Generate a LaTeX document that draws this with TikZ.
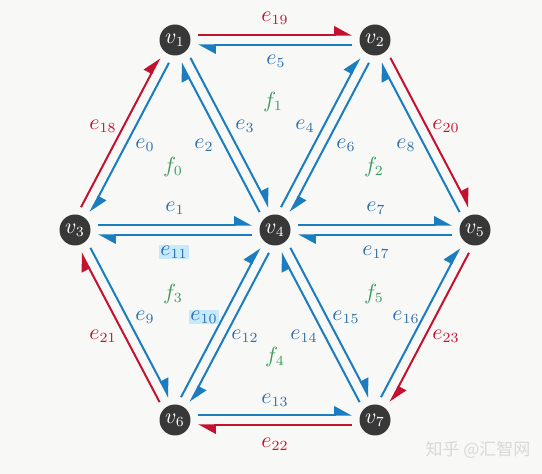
\documentclass[tikz,border=0pt]{standalone}
\usepackage{fontspec}
\newfontfamily\cjkfont{Noto Sans CJK SC}
\usetikzlibrary{arrows.meta,calc}
\definecolor{bgc}{HTML}{F8F8F6}
\definecolor{lblue}{HTML}{1A7DC0}
\definecolor{tblue}{HTML}{2C6EAC}
\definecolor{lred}{HTML}{C3122F}
\definecolor{lgreen}{HTML}{3C9B5C}
\definecolor{vgray}{HTML}{383838}
\definecolor{hilite}{HTML}{C6EAF9}
\tikzset{
  vtx/.style={circle, fill=vgray, text=white, minimum size=15.5pt, inner sep=0pt, font=\fontsize{10.5}{12}\selectfont},
  bedge/.style={draw=lblue, line width=1pt, -{Triangle[harpoon, length=8pt, width=8.5pt]}},
  redge/.style={draw=lred, line width=1pt, -{Triangle[harpoon, length=8pt, width=8.5pt]}},
  blab/.style={text=tblue, font=\fontsize{10.5}{12}\selectfont, inner sep=0.5pt},
  rlab/.style={text=lred, font=\fontsize{10.5}{12}\selectfont, inner sep=0.5pt},
  flab/.style={text=lgreen, font=\fontsize{10.5}{12}\selectfont, inner sep=0.5pt},
  hl/.style={fill=hilite}
}
\newcommand\dedge[3]{\draw[#1] ($(#2)!11.5pt!(#3)!2.65pt!90:(#3)$) -- ($(#3)!11.5pt!(#2)!2.65pt!-90:(#2)$);}
\begin{document}
\begin{tikzpicture}[x=0.5pt,y=-0.5pt]
\fill[bgc] (0,0) rectangle (542,474);
\useasboundingbox (0,0) rectangle (542,474);
% vertices
\node[vtx] (v1) at (175,40) {$v_1$};
\node[vtx] (v2) at (375,40) {$v_2$};
\node[vtx] (v3) at (75,230) {$v_3$};
\node[vtx] (v4) at (275,230) {$v_4$};
\node[vtx] (v5) at (475,230) {$v_5$};
\node[vtx] (v6) at (175,420) {$v_6$};
\node[vtx] (v7) at (375,420) {$v_7$};
% blue edges
\dedge{bedge}{v1}{v3}
\dedge{bedge}{v3}{v4}
\dedge{bedge}{v4}{v1}
\dedge{bedge}{v1}{v4}
\dedge{bedge}{v4}{v2}
\dedge{bedge}{v2}{v1}
\dedge{bedge}{v2}{v4}
\dedge{bedge}{v4}{v5}
\dedge{bedge}{v5}{v2}
\dedge{bedge}{v3}{v6}
\dedge{bedge}{v6}{v4}
\dedge{bedge}{v4}{v3}
\dedge{bedge}{v4}{v6}
\dedge{bedge}{v6}{v7}
\dedge{bedge}{v7}{v4}
\dedge{bedge}{v4}{v7}
\dedge{bedge}{v7}{v5}
\dedge{bedge}{v5}{v4}
% red edges
\dedge{redge}{v3}{v1}
\dedge{redge}{v1}{v2}
\dedge{redge}{v2}{v5}
\dedge{redge}{v6}{v3}
\dedge{redge}{v7}{v6}
\dedge{redge}{v5}{v7}
% edge labels
\node[blab] (l0) at (145,145) {$e_{0}$};
\node[blab] (l1) at (175,208) {$e_{1}$};
\node[blab] (l2) at (204,145) {$e_{2}$};
\node[blab] (l3) at (245,126) {$e_{3}$};
\node[blab] (l4) at (305,126) {$e_{4}$};
\node[blab] (l5) at (276,61) {$e_{5}$};
\node[blab] (l6) at (346,145) {$e_{6}$};
\node[blab] (l7) at (376,208) {$e_{7}$};
\node[blab] (l8) at (406,145) {$e_{8}$};
\node[blab] (l9) at (145,317) {$e_{9}$};
\node[blab,hl] (l10) at (204,317) {$e_{10}$};
\node[blab,hl] (l11) at (174,252) {$e_{11}$};
\node[blab] (l12) at (245,336) {$e_{12}$};
\node[blab] (l13) at (275,400) {$e_{13}$};
\node[blab] (l14) at (304,336) {$e_{14}$};
\node[blab] (l15) at (346,317) {$e_{15}$};
\node[blab] (l16) at (406,317) {$e_{16}$};
\node[blab] (l17) at (376,252) {$e_{17}$};
\node[rlab] (l18) at (103,126) {$e_{18}$};
\node[rlab] (l19) at (275,18) {$e_{19}$};
\node[rlab] (l20) at (446,126) {$e_{20}$};
\node[rlab] (l21) at (103,336) {$e_{21}$};
\node[rlab] (l22) at (275,444) {$e_{22}$};
\node[rlab] (l23) at (446,336) {$e_{23}$};
% face labels
\node[flab] (f0) at (173,167) {$f_{0}$};
\node[flab] (f1) at (273,102) {$f_{1}$};
\node[flab] (f2) at (374,167) {$f_{2}$};
\node[flab] (f3) at (173,294) {$f_{3}$};
\node[flab] (f4) at (275,357) {$f_{4}$};
\node[flab] (f5) at (374,294) {$f_{5}$};
% watermark
\node[text=black!15, font=\cjkfont\fontsize{8.5}{10}\selectfont] (wm) at (478,450) {知乎 @汇智网};
\end{tikzpicture}
\end{document}
